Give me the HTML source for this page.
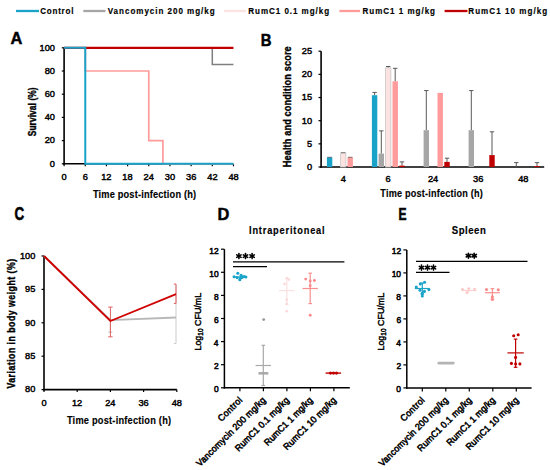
<!DOCTYPE html>
<html><head><meta charset="utf-8"><style>
html,body{margin:0;padding:0;background:#fff;width:550px;height:470px;overflow:hidden}
svg{display:block}
</style></head><body>
<svg width="550" height="470" viewBox="0 0 550 470" style="font-family:'Liberation Sans',sans-serif">
<rect width="550" height="470" fill="#fff"/>
<line x1="16.00" y1="11.00" x2="39.00" y2="11.00" stroke="#19a3c9" stroke-width="2.3" />
<text transform="translate(40.28,13.70) scale(0.8400,1)" font-size="9.565" font-weight="bold" fill="#000" stroke="#000" stroke-width="0.179" letter-spacing="0.905">Control</text>
<line x1="83.30" y1="11.00" x2="105.50" y2="11.00" stroke="#a6a6a6" stroke-width="2.3" />
<text transform="translate(107.72,13.70) scale(0.8400,1)" font-size="9.565" font-weight="bold" fill="#000" stroke="#000" stroke-width="0.179" letter-spacing="1.164">Vancomycin 200 mg/kg</text>
<line x1="224.00" y1="11.00" x2="246.00" y2="11.00" stroke="#fde2e2" stroke-width="2.3" />
<text transform="translate(248.28,13.70) scale(0.8400,1)" font-size="9.565" font-weight="bold" fill="#000" stroke="#000" stroke-width="0.179" letter-spacing="1.142">RumC1 0.1 mg/kg</text>
<line x1="339.40" y1="11.00" x2="360.00" y2="11.00" stroke="#ff9b9b" stroke-width="2.3" />
<text transform="translate(362.48,13.70) scale(0.8400,1)" font-size="9.565" font-weight="bold" fill="#000" stroke="#000" stroke-width="0.179" letter-spacing="1.175">RumC1 1 mg/kg</text>
<line x1="444.60" y1="11.00" x2="467.50" y2="11.00" stroke="#c00000" stroke-width="2.3" />
<text transform="translate(468.28,13.70) scale(0.8400,1)" font-size="9.565" font-weight="bold" fill="#000" stroke="#000" stroke-width="0.179" letter-spacing="1.258">RumC1 10 mg/kg</text>
<text transform="translate(10.44,43.70) scale(0.9440,1)" font-size="17.391" font-weight="bold" fill="#000" stroke="#000" stroke-width="0.477" >A</text>
<text transform="translate(260.68,45.95) scale(0.8650,1)" font-size="17.246" font-weight="bold" fill="#000" stroke="#000" stroke-width="0.520" >B</text>
<text transform="translate(14.41,220.25) scale(0.7709,1)" font-size="17.429" font-weight="bold" fill="#000" stroke="#000" stroke-width="0.584" >C</text>
<text transform="translate(217.38,220.35) scale(0.9443,1)" font-size="17.391" font-weight="bold" fill="#000" stroke="#000" stroke-width="0.477" >D</text>
<text transform="translate(398.47,220.35) scale(0.6920,1)" font-size="17.391" font-weight="bold" fill="#000" stroke="#000" stroke-width="0.650" >E</text>
<line x1="64.10" y1="47.80" x2="64.10" y2="164.60" stroke="#000" stroke-width="1.6" />
<line x1="63.30" y1="163.80" x2="233.00" y2="163.80" stroke="#000" stroke-width="1.6" />
<line x1="61.80" y1="163.80" x2="64.10" y2="163.80" stroke="#000" stroke-width="1.2" />
<text transform="translate(49.84,166.62) scale(1.0500,1)" font-size="8.800" font-weight="normal" fill="#000" stroke="#000" stroke-width="0.429" >0</text>
<line x1="61.80" y1="140.60" x2="64.10" y2="140.60" stroke="#000" stroke-width="1.2" />
<text transform="translate(44.71,143.42) scale(1.0500,1)" font-size="8.800" font-weight="normal" fill="#000" stroke="#000" stroke-width="0.429" >20</text>
<line x1="61.80" y1="117.40" x2="64.10" y2="117.40" stroke="#000" stroke-width="1.2" />
<text transform="translate(44.71,120.22) scale(1.0500,1)" font-size="8.800" font-weight="normal" fill="#000" stroke="#000" stroke-width="0.429" >40</text>
<line x1="61.80" y1="94.20" x2="64.10" y2="94.20" stroke="#000" stroke-width="1.2" />
<text transform="translate(44.71,97.02) scale(1.0500,1)" font-size="8.800" font-weight="normal" fill="#000" stroke="#000" stroke-width="0.429" >60</text>
<line x1="61.80" y1="71.00" x2="64.10" y2="71.00" stroke="#000" stroke-width="1.2" />
<text transform="translate(44.71,73.82) scale(1.0500,1)" font-size="8.800" font-weight="normal" fill="#000" stroke="#000" stroke-width="0.429" >80</text>
<line x1="61.80" y1="47.80" x2="64.10" y2="47.80" stroke="#000" stroke-width="1.2" />
<text transform="translate(39.59,50.62) scale(1.0500,1)" font-size="8.800" font-weight="normal" fill="#000" stroke="#000" stroke-width="0.429" >100</text>
<line x1="64.10" y1="163.80" x2="64.10" y2="166.30" stroke="#000" stroke-width="1.2" />
<text transform="translate(61.54,179.52) scale(1.0500,1)" font-size="8.800" font-weight="normal" fill="#000" stroke="#000" stroke-width="0.429" >0</text>
<line x1="85.27" y1="163.80" x2="85.27" y2="166.30" stroke="#000" stroke-width="1.2" />
<text transform="translate(82.68,179.52) scale(1.0500,1)" font-size="8.800" font-weight="normal" fill="#000" stroke="#000" stroke-width="0.429" >6</text>
<line x1="106.44" y1="163.80" x2="106.44" y2="166.30" stroke="#000" stroke-width="1.2" />
<text transform="translate(101.20,179.52) scale(1.0500,1)" font-size="8.800" font-weight="normal" fill="#000" stroke="#000" stroke-width="0.429" >12</text>
<line x1="127.61" y1="163.80" x2="127.61" y2="166.30" stroke="#000" stroke-width="1.2" />
<text transform="translate(122.32,179.52) scale(1.0500,1)" font-size="8.800" font-weight="normal" fill="#000" stroke="#000" stroke-width="0.429" >18</text>
<line x1="148.78" y1="163.80" x2="148.78" y2="166.30" stroke="#000" stroke-width="1.2" />
<text transform="translate(143.56,179.52) scale(1.0500,1)" font-size="8.800" font-weight="normal" fill="#000" stroke="#000" stroke-width="0.429" >24</text>
<line x1="169.95" y1="163.80" x2="169.95" y2="166.30" stroke="#000" stroke-width="1.2" />
<text transform="translate(164.82,179.52) scale(1.0500,1)" font-size="8.800" font-weight="normal" fill="#000" stroke="#000" stroke-width="0.429" >30</text>
<line x1="191.12" y1="163.80" x2="191.12" y2="166.30" stroke="#000" stroke-width="1.2" />
<text transform="translate(186.01,179.52) scale(1.0500,1)" font-size="8.800" font-weight="normal" fill="#000" stroke="#000" stroke-width="0.429" >36</text>
<line x1="212.29" y1="163.80" x2="212.29" y2="166.30" stroke="#000" stroke-width="1.2" />
<text transform="translate(207.28,179.52) scale(1.0500,1)" font-size="8.800" font-weight="normal" fill="#000" stroke="#000" stroke-width="0.429" >42</text>
<line x1="233.46" y1="163.80" x2="233.46" y2="166.30" stroke="#000" stroke-width="1.2" />
<text transform="translate(228.40,179.52) scale(1.0500,1)" font-size="8.800" font-weight="normal" fill="#000" stroke="#000" stroke-width="0.429" >48</text>
<text transform="translate(92.91,197.60) scale(0.8400,1)" font-size="11.014" font-weight="bold" fill="#000" stroke="#000" stroke-width="0.143" letter-spacing="0.206">Time post-infection (h)</text>
<text transform="translate(35.60,136.25) rotate(-90) scale(0.8000,1)" font-size="10.435" font-weight="bold" fill="#000" stroke="#000" stroke-width="0.400" letter-spacing="0.122">Survival (%)</text>
<polyline points="64.10,47.80 212.29,47.80 212.29,64.39 233.46,64.39" fill="none" stroke="#7f7f7f" stroke-width="1.5"/>
<polyline points="64.10,47.80 85.27,47.80 85.27,71.00 148.78,71.00 148.78,140.60 162.89,140.60 162.89,163.80 233.46,163.80" fill="none" stroke="#ff9b9b" stroke-width="1.7"/>
<polyline points="64.10,47.80 233.46,47.80" fill="none" stroke="#c00000" stroke-width="2.3"/>
<polyline points="64.10,47.80 85.27,47.80 85.27,163.80 233.46,163.80" fill="none" stroke="#19a3c9" stroke-width="2"/>
<line x1="321.10" y1="51.20" x2="321.10" y2="167.80" stroke="#000" stroke-width="1.6" />
<line x1="320.30" y1="167.00" x2="544.20" y2="167.00" stroke="#000" stroke-width="1.6" />
<line x1="318.50" y1="167.00" x2="321.10" y2="167.00" stroke="#000" stroke-width="1.2" />
<text transform="translate(306.94,169.82) scale(1.0500,1)" font-size="8.800" font-weight="normal" fill="#000" stroke="#000" stroke-width="0.429" >0</text>
<line x1="318.50" y1="143.84" x2="321.10" y2="143.84" stroke="#000" stroke-width="1.2" />
<text transform="translate(306.94,146.66) scale(1.0500,1)" font-size="8.800" font-weight="normal" fill="#000" stroke="#000" stroke-width="0.429" >5</text>
<line x1="318.50" y1="120.68" x2="321.10" y2="120.68" stroke="#000" stroke-width="1.2" />
<text transform="translate(301.81,123.50) scale(1.0500,1)" font-size="8.800" font-weight="normal" fill="#000" stroke="#000" stroke-width="0.429" >10</text>
<line x1="318.50" y1="97.52" x2="321.10" y2="97.52" stroke="#000" stroke-width="1.2" />
<text transform="translate(301.81,100.34) scale(1.0500,1)" font-size="8.800" font-weight="normal" fill="#000" stroke="#000" stroke-width="0.429" >15</text>
<line x1="318.50" y1="74.36" x2="321.10" y2="74.36" stroke="#000" stroke-width="1.2" />
<text transform="translate(301.81,77.18) scale(1.0500,1)" font-size="8.800" font-weight="normal" fill="#000" stroke="#000" stroke-width="0.429" >20</text>
<line x1="318.50" y1="51.20" x2="321.10" y2="51.20" stroke="#000" stroke-width="1.2" />
<text transform="translate(301.81,54.02) scale(1.0500,1)" font-size="8.800" font-weight="normal" fill="#000" stroke="#000" stroke-width="0.429" >25</text>
<text transform="translate(340.66,181.82) scale(1.0500,1)" font-size="8.800" font-weight="normal" fill="#000" stroke="#000" stroke-width="0.429" >4</text>
<text transform="translate(385.61,181.82) scale(1.0500,1)" font-size="8.800" font-weight="normal" fill="#000" stroke="#000" stroke-width="0.429" >6</text>
<text transform="translate(427.98,181.82) scale(1.0500,1)" font-size="8.800" font-weight="normal" fill="#000" stroke="#000" stroke-width="0.429" >24</text>
<text transform="translate(473.09,181.82) scale(1.0500,1)" font-size="8.800" font-weight="normal" fill="#000" stroke="#000" stroke-width="0.429" >36</text>
<text transform="translate(518.14,181.82) scale(1.0500,1)" font-size="8.800" font-weight="normal" fill="#000" stroke="#000" stroke-width="0.429" >48</text>
<text transform="translate(380.31,196.90) scale(0.8400,1)" font-size="10.870" font-weight="bold" fill="#000" stroke="#000" stroke-width="0.143" letter-spacing="0.238">Time post-infection (h)</text>
<text transform="translate(291.00,167.29) rotate(-90) scale(0.8400,1)" font-size="10.870" font-weight="bold" fill="#000" stroke="#000" stroke-width="0.381" letter-spacing="0.192">Health and condition score</text>
<rect x="326.90" y="157.27" width="5.40" height="9.73" fill="#19a3c9" />
<rect x="340.50" y="152.78" width="5.40" height="14.22" fill="#fde2e2" stroke="#c8c8c8" stroke-width="0.8"/>
<rect x="347.50" y="157.27" width="5.40" height="9.73" fill="#ff9b9b" />
<line x1="374.60" y1="92.42" x2="374.60" y2="95.20" stroke="#595959" stroke-width="1" />
<line x1="372.40" y1="92.42" x2="376.80" y2="92.42" stroke="#595959" stroke-width="1" />
<rect x="371.90" y="95.20" width="5.40" height="71.80" fill="#19a3c9" />
<line x1="381.30" y1="130.87" x2="381.30" y2="153.57" stroke="#595959" stroke-width="1" />
<line x1="379.10" y1="130.87" x2="383.50" y2="130.87" stroke="#595959" stroke-width="1" />
<rect x="378.60" y="153.57" width="5.40" height="13.43" fill="#a6a6a6" />
<line x1="388.20" y1="66.49" x2="388.20" y2="67.88" stroke="#595959" stroke-width="1" />
<line x1="386.00" y1="66.49" x2="390.40" y2="66.49" stroke="#595959" stroke-width="1" />
<rect x="385.50" y="67.88" width="5.40" height="99.12" fill="#fde2e2" stroke="#c8c8c8" stroke-width="0.8"/>
<line x1="395.20" y1="68.34" x2="395.20" y2="81.31" stroke="#595959" stroke-width="1" />
<line x1="393.00" y1="68.34" x2="397.40" y2="68.34" stroke="#595959" stroke-width="1" />
<rect x="392.50" y="81.31" width="5.40" height="85.69" fill="#ff9b9b" />
<line x1="402.00" y1="161.90" x2="402.00" y2="165.61" stroke="#595959" stroke-width="1" />
<line x1="399.80" y1="161.90" x2="404.20" y2="161.90" stroke="#595959" stroke-width="1" />
<rect x="399.30" y="165.61" width="5.40" height="1.39" fill="#c00000" />
<line x1="426.30" y1="90.57" x2="426.30" y2="130.18" stroke="#595959" stroke-width="1" />
<line x1="424.10" y1="90.57" x2="428.50" y2="90.57" stroke="#595959" stroke-width="1" />
<rect x="423.60" y="130.18" width="5.40" height="36.82" fill="#a6a6a6" />
<rect x="437.50" y="92.89" width="5.40" height="74.11" fill="#ff9b9b" />
<line x1="447.00" y1="158.20" x2="447.00" y2="161.90" stroke="#595959" stroke-width="1" />
<line x1="444.80" y1="158.20" x2="449.20" y2="158.20" stroke="#595959" stroke-width="1" />
<rect x="444.30" y="161.90" width="5.40" height="5.10" fill="#c00000" />
<line x1="471.30" y1="90.57" x2="471.30" y2="130.18" stroke="#595959" stroke-width="1" />
<line x1="469.10" y1="90.57" x2="473.50" y2="90.57" stroke="#595959" stroke-width="1" />
<rect x="468.60" y="130.18" width="5.40" height="36.82" fill="#a6a6a6" />
<line x1="492.00" y1="131.80" x2="492.00" y2="155.10" stroke="#595959" stroke-width="1" />
<line x1="489.80" y1="131.80" x2="494.20" y2="131.80" stroke="#595959" stroke-width="1" />
<rect x="489.30" y="155.10" width="5.40" height="11.90" fill="#c00000" />
<line x1="516.30" y1="162.60" x2="516.30" y2="167.00" stroke="#595959" stroke-width="1" />
<line x1="514.10" y1="162.60" x2="518.50" y2="162.60" stroke="#595959" stroke-width="1" />
<line x1="537.00" y1="162.60" x2="537.00" y2="166.07" stroke="#595959" stroke-width="1" />
<line x1="534.80" y1="162.60" x2="539.20" y2="162.60" stroke="#595959" stroke-width="1" />
<rect x="534.30" y="166.07" width="5.40" height="0.93" fill="#c00000" />
<line x1="327.40" y1="157.27" x2="331.80" y2="157.27" stroke="#595959" stroke-width="0.8" />
<line x1="341.00" y1="152.78" x2="345.40" y2="152.78" stroke="#595959" stroke-width="0.8" />
<line x1="348.00" y1="157.27" x2="352.40" y2="157.27" stroke="#595959" stroke-width="0.8" />
<line x1="44.00" y1="256.00" x2="44.00" y2="390.40" stroke="#000" stroke-width="1.6" />
<line x1="43.20" y1="389.60" x2="176.80" y2="389.60" stroke="#000" stroke-width="1.6" />
<line x1="41.50" y1="389.60" x2="44.00" y2="389.60" stroke="#000" stroke-width="1.2" />
<text transform="translate(25.11,392.42) scale(1.0500,1)" font-size="8.800" font-weight="normal" fill="#000" stroke="#000" stroke-width="0.429" >80</text>
<line x1="41.50" y1="356.20" x2="44.00" y2="356.20" stroke="#000" stroke-width="1.2" />
<text transform="translate(25.11,359.02) scale(1.0500,1)" font-size="8.800" font-weight="normal" fill="#000" stroke="#000" stroke-width="0.429" >85</text>
<line x1="41.50" y1="322.80" x2="44.00" y2="322.80" stroke="#000" stroke-width="1.2" />
<text transform="translate(25.11,325.62) scale(1.0500,1)" font-size="8.800" font-weight="normal" fill="#000" stroke="#000" stroke-width="0.429" >90</text>
<line x1="41.50" y1="289.40" x2="44.00" y2="289.40" stroke="#000" stroke-width="1.2" />
<text transform="translate(25.11,292.22) scale(1.0500,1)" font-size="8.800" font-weight="normal" fill="#000" stroke="#000" stroke-width="0.429" >95</text>
<line x1="41.50" y1="256.00" x2="44.00" y2="256.00" stroke="#000" stroke-width="1.2" />
<text transform="translate(19.98,258.82) scale(1.0500,1)" font-size="8.800" font-weight="normal" fill="#000" stroke="#000" stroke-width="0.429" >100</text>
<line x1="44.00" y1="389.60" x2="44.00" y2="392.10" stroke="#000" stroke-width="1.2" />
<text transform="translate(41.44,405.82) scale(1.0500,1)" font-size="8.800" font-weight="normal" fill="#000" stroke="#000" stroke-width="0.429" >0</text>
<line x1="77.20" y1="389.60" x2="77.20" y2="392.10" stroke="#000" stroke-width="1.2" />
<text transform="translate(71.96,405.82) scale(1.0500,1)" font-size="8.800" font-weight="normal" fill="#000" stroke="#000" stroke-width="0.429" >12</text>
<line x1="110.40" y1="389.60" x2="110.40" y2="392.10" stroke="#000" stroke-width="1.2" />
<text transform="translate(105.18,405.82) scale(1.0500,1)" font-size="8.800" font-weight="normal" fill="#000" stroke="#000" stroke-width="0.429" >24</text>
<line x1="143.60" y1="389.60" x2="143.60" y2="392.10" stroke="#000" stroke-width="1.2" />
<text transform="translate(138.49,405.82) scale(1.0500,1)" font-size="8.800" font-weight="normal" fill="#000" stroke="#000" stroke-width="0.429" >36</text>
<line x1="176.80" y1="389.60" x2="176.80" y2="392.10" stroke="#000" stroke-width="1.2" />
<text transform="translate(171.74,405.82) scale(1.0500,1)" font-size="8.800" font-weight="normal" fill="#000" stroke="#000" stroke-width="0.429" >48</text>
<text transform="translate(66.91,424.00) scale(0.8400,1)" font-size="11.014" font-weight="bold" fill="#000" stroke="#000" stroke-width="0.143" letter-spacing="0.260">Time post-infection (h)</text>
<text transform="translate(14.70,388.59) rotate(-90) scale(0.8400,1)" font-size="10.435" font-weight="bold" fill="#000" stroke="#000" stroke-width="0.381" letter-spacing="0.571">Variation in body weight (%)</text>
<line x1="110.40" y1="332.15" x2="110.40" y2="320.13" stroke="#bfbfbf" stroke-width="1" />
<line x1="108.40" y1="332.15" x2="112.40" y2="332.15" stroke="#bfbfbf" stroke-width="1" />
<line x1="176.00" y1="343.51" x2="176.00" y2="284.72" stroke="#cfcfcf" stroke-width="1.1" />
<line x1="174.00" y1="343.51" x2="176.00" y2="343.51" stroke="#cfcfcf" stroke-width="1" />
<polyline points="44.00,256.00 110.40,320.13 176.00,317.46" fill="none" stroke="#b8b8b8" stroke-width="1.9"/>
<line x1="110.40" y1="336.83" x2="110.40" y2="307.10" stroke="#e06060" stroke-width="1" />
<line x1="108.20" y1="336.83" x2="112.60" y2="336.83" stroke="#e06060" stroke-width="1" />
<line x1="108.20" y1="307.10" x2="112.60" y2="307.10" stroke="#e06060" stroke-width="1" />
<line x1="176.00" y1="303.43" x2="176.00" y2="284.06" stroke="#e06060" stroke-width="1" />
<line x1="173.80" y1="303.43" x2="176.00" y2="303.43" stroke="#e06060" stroke-width="1" />
<line x1="173.80" y1="284.06" x2="176.00" y2="284.06" stroke="#e06060" stroke-width="1" />
<polyline points="44.00,256.00 110.40,321.00 176.00,294.08" fill="none" stroke="#d00000" stroke-width="1.8"/>
<line x1="224.40" y1="249.20" x2="224.40" y2="388.55" stroke="#000" stroke-width="1.5" />
<line x1="223.65" y1="387.80" x2="349.80" y2="387.80" stroke="#000" stroke-width="1.5" />
<line x1="221.00" y1="387.80" x2="224.40" y2="387.80" stroke="#000" stroke-width="1.2" />
<text transform="translate(213.95,392.32) scale(0.9600,1)" font-size="8.800" font-weight="normal" fill="#000" stroke="#000" stroke-width="0.521" >0</text>
<line x1="221.00" y1="364.70" x2="224.40" y2="364.70" stroke="#000" stroke-width="1.2" />
<text transform="translate(214.03,369.22) scale(0.9600,1)" font-size="8.800" font-weight="normal" fill="#000" stroke="#000" stroke-width="0.521" >2</text>
<line x1="221.00" y1="341.60" x2="224.40" y2="341.60" stroke="#000" stroke-width="1.2" />
<text transform="translate(213.86,346.12) scale(0.9600,1)" font-size="8.800" font-weight="normal" fill="#000" stroke="#000" stroke-width="0.521" >4</text>
<line x1="221.00" y1="318.50" x2="224.40" y2="318.50" stroke="#000" stroke-width="1.2" />
<text transform="translate(213.99,323.02) scale(0.9600,1)" font-size="8.800" font-weight="normal" fill="#000" stroke="#000" stroke-width="0.521" >6</text>
<line x1="221.00" y1="295.40" x2="224.40" y2="295.40" stroke="#000" stroke-width="1.2" />
<text transform="translate(213.95,299.92) scale(0.9600,1)" font-size="8.800" font-weight="normal" fill="#000" stroke="#000" stroke-width="0.521" >8</text>
<line x1="221.00" y1="272.30" x2="224.40" y2="272.30" stroke="#000" stroke-width="1.2" />
<text transform="translate(209.26,276.82) scale(0.9600,1)" font-size="8.800" font-weight="normal" fill="#000" stroke="#000" stroke-width="0.521" >10</text>
<line x1="221.00" y1="249.20" x2="224.40" y2="249.20" stroke="#000" stroke-width="1.2" />
<text transform="translate(209.35,253.72) scale(0.9600,1)" font-size="8.800" font-weight="normal" fill="#000" stroke="#000" stroke-width="0.521" >12</text>
<line x1="239.90" y1="387.80" x2="239.90" y2="391.30" stroke="#000" stroke-width="1.2" />
<line x1="263.40" y1="387.80" x2="263.40" y2="391.30" stroke="#000" stroke-width="1.2" />
<line x1="286.90" y1="387.80" x2="286.90" y2="391.30" stroke="#000" stroke-width="1.2" />
<line x1="310.40" y1="387.80" x2="310.40" y2="391.30" stroke="#000" stroke-width="1.2" />
<line x1="333.90" y1="387.80" x2="333.90" y2="391.30" stroke="#000" stroke-width="1.2" />
<text transform="translate(221.58,422.02) rotate(-45) scale(0.9500,1)" font-size="9.275" font-weight="normal" fill="#000" stroke="#000" stroke-width="0.526" letter-spacing="0.288">Control</text>
<text transform="translate(200.11,466.99) rotate(-45) scale(0.9500,1)" font-size="9.275" font-weight="normal" fill="#000" stroke="#000" stroke-width="0.526" letter-spacing="0.149">Vancomycin 200 mg/kg</text>
<text transform="translate(238.70,451.90) rotate(-45) scale(0.9500,1)" font-size="9.275" font-weight="normal" fill="#000" stroke="#000" stroke-width="0.526" letter-spacing="0.094">RumC1 0.1 mg/kg</text>
<text transform="translate(267.85,446.25) rotate(-45) scale(0.9500,1)" font-size="9.275" font-weight="normal" fill="#000" stroke="#000" stroke-width="0.526" letter-spacing="0.054">RumC1 1 mg/kg</text>
<text transform="translate(287.11,450.49) rotate(-45) scale(0.9500,1)" font-size="9.275" font-weight="normal" fill="#000" stroke="#000" stroke-width="0.526" letter-spacing="0.140">RumC1 10 mg/kg</text>
<text transform="translate(201.40,350.6) rotate(-90)" font-size="9.42" font-weight="normal" stroke="#000" stroke-width="0.45" textLength="57.9" lengthAdjust="spacingAndGlyphs">Log<tspan font-size="6.78" dy="1.8">10</tspan><tspan dy="-1.8"> CFU/mL</tspan></text>
<text transform="translate(249.00,233.90) scale(0.8600,1)" font-size="10.725" font-weight="bold" fill="#000" stroke="#000" stroke-width="0.174" letter-spacing="0.963">Intraperitoneal</text>
<line x1="233.00" y1="261.80" x2="344.40" y2="261.80" stroke="#000" stroke-width="1.2" />
<line x1="233.00" y1="266.60" x2="267.00" y2="266.60" stroke="#000" stroke-width="1.2" />
<line x1="238.90" y1="253.60" x2="238.90" y2="258.60" stroke="#000" stroke-width="1.6" stroke-linecap="round"/>
<line x1="236.73" y1="254.85" x2="241.07" y2="257.35" stroke="#000" stroke-width="1.6" stroke-linecap="round"/>
<line x1="241.07" y1="254.85" x2="236.73" y2="257.35" stroke="#000" stroke-width="1.6" stroke-linecap="round"/>
<line x1="245.50" y1="253.60" x2="245.50" y2="258.60" stroke="#000" stroke-width="1.6" stroke-linecap="round"/>
<line x1="243.33" y1="254.85" x2="247.67" y2="257.35" stroke="#000" stroke-width="1.6" stroke-linecap="round"/>
<line x1="247.67" y1="254.85" x2="243.33" y2="257.35" stroke="#000" stroke-width="1.6" stroke-linecap="round"/>
<line x1="252.10" y1="253.60" x2="252.10" y2="258.60" stroke="#000" stroke-width="1.6" stroke-linecap="round"/>
<line x1="249.93" y1="254.85" x2="254.27" y2="257.35" stroke="#000" stroke-width="1.6" stroke-linecap="round"/>
<line x1="254.27" y1="254.85" x2="249.93" y2="257.35" stroke="#000" stroke-width="1.6" stroke-linecap="round"/>
<circle cx="234.10" cy="276.70" r="1.55" fill="#19a3c9"/>
<circle cx="237.80" cy="273.20" r="1.55" fill="#19a3c9"/>
<circle cx="241.10" cy="275.20" r="1.55" fill="#19a3c9"/>
<circle cx="242.00" cy="277.40" r="1.55" fill="#19a3c9"/>
<circle cx="239.80" cy="279.80" r="1.55" fill="#19a3c9"/>
<circle cx="237.20" cy="277.60" r="1.55" fill="#19a3c9"/>
<circle cx="245.90" cy="277.00" r="1.55" fill="#19a3c9"/>
<circle cx="244.20" cy="276.50" r="1.55" fill="#19a3c9"/>
<circle cx="240.50" cy="278.00" r="1.55" fill="#19a3c9"/>
<line x1="233.50" y1="277.00" x2="247.00" y2="277.00" stroke="#19a3c9" stroke-width="1.2" />
<line x1="263.30" y1="345.30" x2="263.30" y2="385.50" stroke="#a8a8a8" stroke-width="1.2" />
<line x1="261.50" y1="345.30" x2="265.10" y2="345.30" stroke="#a8a8a8" stroke-width="1.2" />
<line x1="261.50" y1="385.50" x2="265.10" y2="385.50" stroke="#a8a8a8" stroke-width="1.2" />
<line x1="255.60" y1="365.50" x2="271.00" y2="365.50" stroke="#a8a8a8" stroke-width="1.2" />
<line x1="258.50" y1="373.30" x2="268.30" y2="373.30" stroke="#a8a8a8" stroke-width="2.5" />
<circle cx="263.70" cy="319.60" r="1.45" fill="#999"/>
<line x1="286.80" y1="278.50" x2="286.80" y2="304.30" stroke="#fde0e0" stroke-width="1.2" />
<line x1="285.00" y1="278.50" x2="288.60" y2="278.50" stroke="#fde0e0" stroke-width="1.2" />
<line x1="285.00" y1="304.30" x2="288.60" y2="304.30" stroke="#fde0e0" stroke-width="1.2" />
<line x1="279.10" y1="290.60" x2="294.50" y2="290.60" stroke="#fde0e0" stroke-width="1.2" />
<circle cx="287.00" cy="278.10" r="1.35" fill="#fcdada"/>
<circle cx="288.90" cy="279.60" r="1.35" fill="#fcdada"/>
<circle cx="284.60" cy="283.90" r="1.35" fill="#fcdada"/>
<circle cx="286.70" cy="299.70" r="1.35" fill="#fcdada"/>
<circle cx="286.70" cy="304.00" r="1.35" fill="#fcdada"/>
<circle cx="286.70" cy="311.20" r="1.35" fill="#fcdada"/>
<line x1="310.20" y1="273.20" x2="310.20" y2="303.60" stroke="#fa9090" stroke-width="1.2" />
<line x1="308.40" y1="273.20" x2="312.00" y2="273.20" stroke="#fa9090" stroke-width="1.2" />
<line x1="308.40" y1="303.60" x2="312.00" y2="303.60" stroke="#fa9090" stroke-width="1.2" />
<line x1="302.50" y1="288.50" x2="317.90" y2="288.50" stroke="#fa9090" stroke-width="1.2" />
<circle cx="305.70" cy="279.10" r="1.45" fill="#fa8a8a"/>
<circle cx="314.40" cy="280.50" r="1.45" fill="#fa8a8a"/>
<circle cx="310.20" cy="281.00" r="1.45" fill="#fa8a8a"/>
<circle cx="310.20" cy="285.70" r="1.45" fill="#fa8a8a"/>
<circle cx="310.20" cy="315.30" r="1.45" fill="#fa8a8a"/>
<line x1="325.60" y1="373.10" x2="341.10" y2="373.10" stroke="#c00000" stroke-width="1.4" />
<circle cx="330.50" cy="373.10" r="1.55" fill="#c00000"/>
<circle cx="333.50" cy="373.10" r="1.55" fill="#c00000"/>
<circle cx="336.50" cy="373.10" r="1.55" fill="#c00000"/>
<line x1="406.80" y1="249.90" x2="406.80" y2="388.65" stroke="#000" stroke-width="1.5" />
<line x1="406.05" y1="387.90" x2="531.60" y2="387.90" stroke="#000" stroke-width="1.5" />
<line x1="403.40" y1="387.90" x2="406.80" y2="387.90" stroke="#000" stroke-width="1.2" />
<text transform="translate(396.35,392.42) scale(0.9600,1)" font-size="8.800" font-weight="normal" fill="#000" stroke="#000" stroke-width="0.521" >0</text>
<line x1="403.40" y1="364.90" x2="406.80" y2="364.90" stroke="#000" stroke-width="1.2" />
<text transform="translate(396.43,369.42) scale(0.9600,1)" font-size="8.800" font-weight="normal" fill="#000" stroke="#000" stroke-width="0.521" >2</text>
<line x1="403.40" y1="341.90" x2="406.80" y2="341.90" stroke="#000" stroke-width="1.2" />
<text transform="translate(396.26,346.42) scale(0.9600,1)" font-size="8.800" font-weight="normal" fill="#000" stroke="#000" stroke-width="0.521" >4</text>
<line x1="403.40" y1="318.90" x2="406.80" y2="318.90" stroke="#000" stroke-width="1.2" />
<text transform="translate(396.39,323.42) scale(0.9600,1)" font-size="8.800" font-weight="normal" fill="#000" stroke="#000" stroke-width="0.521" >6</text>
<line x1="403.40" y1="295.90" x2="406.80" y2="295.90" stroke="#000" stroke-width="1.2" />
<text transform="translate(396.35,300.42) scale(0.9600,1)" font-size="8.800" font-weight="normal" fill="#000" stroke="#000" stroke-width="0.521" >8</text>
<line x1="403.40" y1="272.90" x2="406.80" y2="272.90" stroke="#000" stroke-width="1.2" />
<text transform="translate(391.66,277.42) scale(0.9600,1)" font-size="8.800" font-weight="normal" fill="#000" stroke="#000" stroke-width="0.521" >10</text>
<line x1="403.40" y1="249.90" x2="406.80" y2="249.90" stroke="#000" stroke-width="1.2" />
<text transform="translate(391.75,254.42) scale(0.9600,1)" font-size="8.800" font-weight="normal" fill="#000" stroke="#000" stroke-width="0.521" >12</text>
<line x1="422.30" y1="387.90" x2="422.30" y2="391.40" stroke="#000" stroke-width="1.2" />
<line x1="445.80" y1="387.90" x2="445.80" y2="391.40" stroke="#000" stroke-width="1.2" />
<line x1="469.30" y1="387.90" x2="469.30" y2="391.40" stroke="#000" stroke-width="1.2" />
<line x1="492.80" y1="387.90" x2="492.80" y2="391.40" stroke="#000" stroke-width="1.2" />
<line x1="516.30" y1="387.90" x2="516.30" y2="391.40" stroke="#000" stroke-width="1.2" />
<text transform="translate(403.98,422.02) rotate(-45) scale(0.9500,1)" font-size="9.275" font-weight="normal" fill="#000" stroke="#000" stroke-width="0.526" letter-spacing="0.288">Control</text>
<text transform="translate(382.51,466.99) rotate(-45) scale(0.9500,1)" font-size="9.275" font-weight="normal" fill="#000" stroke="#000" stroke-width="0.526" letter-spacing="0.149">Vancomycin 200 mg/kg</text>
<text transform="translate(421.10,451.90) rotate(-45) scale(0.9500,1)" font-size="9.275" font-weight="normal" fill="#000" stroke="#000" stroke-width="0.526" letter-spacing="0.094">RumC1 0.1 mg/kg</text>
<text transform="translate(450.25,446.25) rotate(-45) scale(0.9500,1)" font-size="9.275" font-weight="normal" fill="#000" stroke="#000" stroke-width="0.526" letter-spacing="0.054">RumC1 1 mg/kg</text>
<text transform="translate(469.51,450.49) rotate(-45) scale(0.9500,1)" font-size="9.275" font-weight="normal" fill="#000" stroke="#000" stroke-width="0.526" letter-spacing="0.140">RumC1 10 mg/kg</text>
<text transform="translate(384.40,350.6) rotate(-90)" font-size="9.42" font-weight="normal" stroke="#000" stroke-width="0.45" textLength="57.9" lengthAdjust="spacingAndGlyphs">Log<tspan font-size="6.78" dy="1.8">10</tspan><tspan dy="-1.8"> CFU/mL</tspan></text>
<text transform="translate(451.71,234.20) scale(0.8600,1)" font-size="11.159" font-weight="bold" fill="#000" stroke="#000" stroke-width="0.174" letter-spacing="0.624">Spleen</text>
<line x1="416.00" y1="261.40" x2="527.50" y2="261.40" stroke="#000" stroke-width="1.2" />
<line x1="416.00" y1="272.40" x2="449.50" y2="272.40" stroke="#000" stroke-width="1.2" />
<line x1="421.50" y1="265.10" x2="421.50" y2="270.10" stroke="#000" stroke-width="1.6" stroke-linecap="round"/>
<line x1="419.33" y1="266.35" x2="423.67" y2="268.85" stroke="#000" stroke-width="1.6" stroke-linecap="round"/>
<line x1="423.67" y1="266.35" x2="419.33" y2="268.85" stroke="#000" stroke-width="1.6" stroke-linecap="round"/>
<line x1="427.50" y1="265.10" x2="427.50" y2="270.10" stroke="#000" stroke-width="1.6" stroke-linecap="round"/>
<line x1="425.33" y1="266.35" x2="429.67" y2="268.85" stroke="#000" stroke-width="1.6" stroke-linecap="round"/>
<line x1="429.67" y1="266.35" x2="425.33" y2="268.85" stroke="#000" stroke-width="1.6" stroke-linecap="round"/>
<line x1="433.50" y1="265.10" x2="433.50" y2="270.10" stroke="#000" stroke-width="1.6" stroke-linecap="round"/>
<line x1="431.33" y1="266.35" x2="435.67" y2="268.85" stroke="#000" stroke-width="1.6" stroke-linecap="round"/>
<line x1="435.67" y1="266.35" x2="431.33" y2="268.85" stroke="#000" stroke-width="1.6" stroke-linecap="round"/>
<line x1="468.40" y1="253.20" x2="468.40" y2="258.20" stroke="#000" stroke-width="1.6" stroke-linecap="round"/>
<line x1="466.23" y1="254.45" x2="470.57" y2="256.95" stroke="#000" stroke-width="1.6" stroke-linecap="round"/>
<line x1="470.57" y1="254.45" x2="466.23" y2="256.95" stroke="#000" stroke-width="1.6" stroke-linecap="round"/>
<line x1="474.20" y1="253.20" x2="474.20" y2="258.20" stroke="#000" stroke-width="1.6" stroke-linecap="round"/>
<line x1="472.03" y1="254.45" x2="476.37" y2="256.95" stroke="#000" stroke-width="1.6" stroke-linecap="round"/>
<line x1="476.37" y1="254.45" x2="472.03" y2="256.95" stroke="#000" stroke-width="1.6" stroke-linecap="round"/>
<line x1="422.30" y1="283.00" x2="422.30" y2="294.00" stroke="#19a3c9" stroke-width="1.2" />
<line x1="420.50" y1="283.00" x2="424.10" y2="283.00" stroke="#19a3c9" stroke-width="1.2" />
<line x1="420.50" y1="294.00" x2="424.10" y2="294.00" stroke="#19a3c9" stroke-width="1.2" />
<line x1="414.85" y1="288.50" x2="429.75" y2="288.50" stroke="#19a3c9" stroke-width="1.2" />
<circle cx="424.60" cy="282.20" r="1.55" fill="#19a3c9"/>
<circle cx="420.30" cy="283.90" r="1.55" fill="#19a3c9"/>
<circle cx="416.30" cy="287.10" r="1.55" fill="#19a3c9"/>
<circle cx="428.90" cy="289.60" r="1.55" fill="#19a3c9"/>
<circle cx="424.40" cy="291.40" r="1.55" fill="#19a3c9"/>
<circle cx="422.30" cy="293.40" r="1.55" fill="#19a3c9"/>
<circle cx="422.30" cy="296.00" r="1.55" fill="#19a3c9"/>
<circle cx="420.00" cy="290.20" r="1.55" fill="#19a3c9"/>
<line x1="438.70" y1="363.10" x2="453.40" y2="363.10" stroke="#b4b4b4" stroke-width="2.6" stroke-linecap="round"/>
<line x1="461.50" y1="290.50" x2="476.50" y2="290.50" stroke="#fcd0d0" stroke-width="1.2" />
<line x1="468.70" y1="288.60" x2="468.70" y2="292.50" stroke="#fcd0d0" stroke-width="1.2" />
<circle cx="462.40" cy="289.50" r="1.45" fill="#fcc8c8"/>
<circle cx="468.70" cy="288.60" r="1.45" fill="#fcc8c8"/>
<circle cx="474.60" cy="289.10" r="1.45" fill="#fcc8c8"/>
<circle cx="466.90" cy="292.70" r="1.45" fill="#fcc8c8"/>
<line x1="492.40" y1="288.60" x2="492.40" y2="299.00" stroke="#fa9090" stroke-width="1.2" />
<line x1="490.60" y1="288.60" x2="494.20" y2="288.60" stroke="#fa9090" stroke-width="1.2" />
<line x1="490.60" y1="299.00" x2="494.20" y2="299.00" stroke="#fa9090" stroke-width="1.2" />
<line x1="484.90" y1="292.70" x2="499.90" y2="292.70" stroke="#fa9090" stroke-width="1.2" />
<circle cx="486.50" cy="289.50" r="1.55" fill="#fa8a8a"/>
<circle cx="498.30" cy="289.80" r="1.55" fill="#fa8a8a"/>
<circle cx="492.40" cy="296.80" r="1.55" fill="#fa8a8a"/>
<circle cx="492.40" cy="299.50" r="1.55" fill="#fa8a8a"/>
<line x1="515.60" y1="339.10" x2="515.60" y2="367.30" stroke="#c00000" stroke-width="1.2" />
<line x1="513.80" y1="339.10" x2="517.40" y2="339.10" stroke="#c00000" stroke-width="1.2" />
<line x1="513.80" y1="367.30" x2="517.40" y2="367.30" stroke="#c00000" stroke-width="1.2" />
<line x1="507.45" y1="352.90" x2="523.75" y2="352.90" stroke="#c00000" stroke-width="1.2" />
<circle cx="513.70" cy="335.80" r="1.55" fill="#c00000"/>
<circle cx="518.20" cy="334.80" r="1.55" fill="#c00000"/>
<circle cx="515.60" cy="357.40" r="1.55" fill="#c00000"/>
<circle cx="511.40" cy="363.40" r="1.55" fill="#c00000"/>
<circle cx="515.60" cy="363.90" r="1.55" fill="#c00000"/>
<circle cx="519.90" cy="363.90" r="1.55" fill="#c00000"/>
</svg></body></html>
